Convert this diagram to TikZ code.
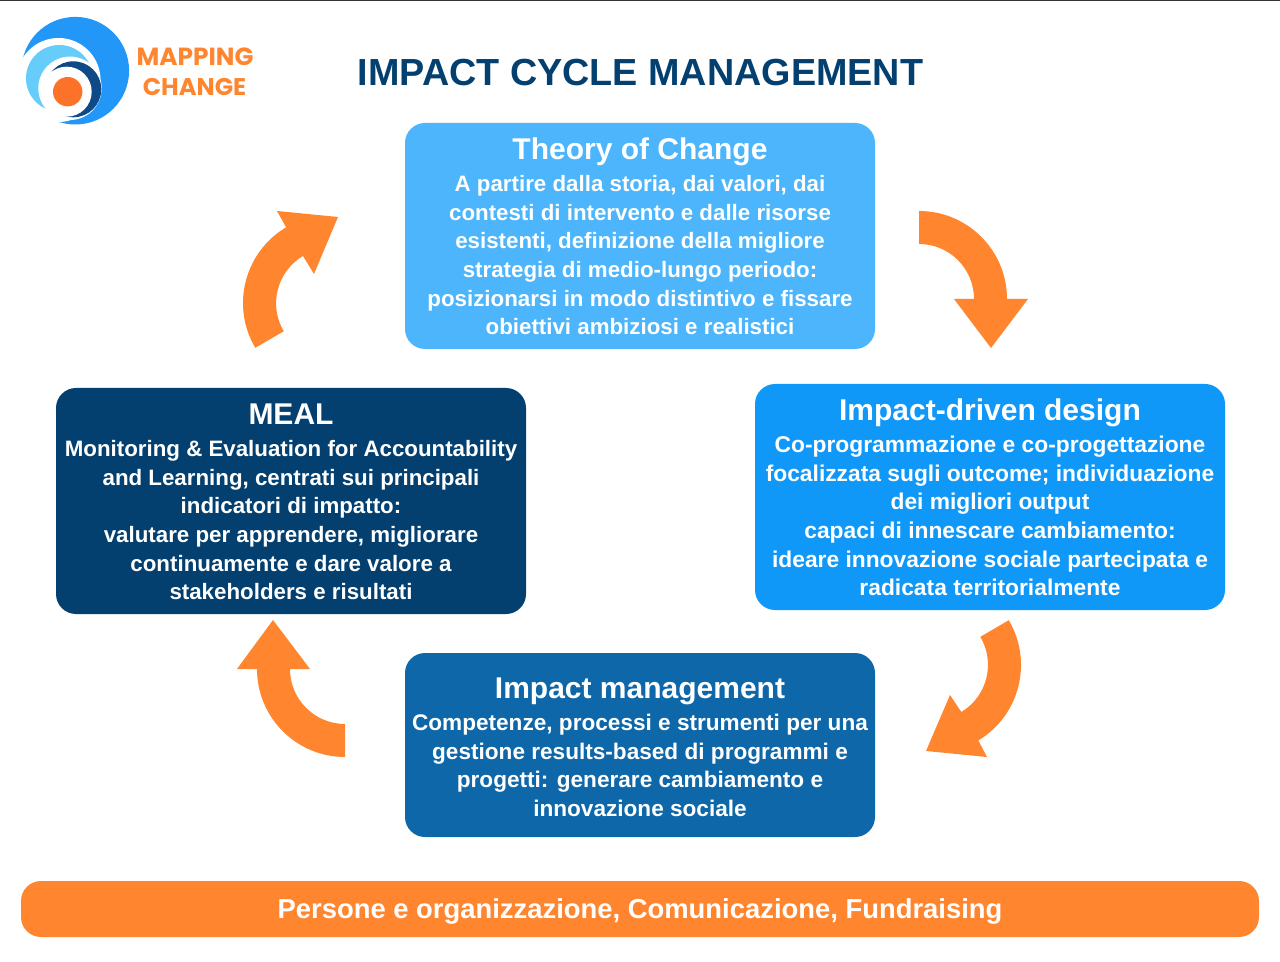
\documentclass[tikz,border=0pt]{standalone}
\usepackage{fontspec}
\setmainfont{Liberation Sans Bold}
\newfontfamily\logofont{Poppins Bold}
\definecolor{orangemc}{HTML}{FF862F}
\definecolor{navymc}{HTML}{03406F}
\definecolor{skymc}{HTML}{4DB5FB}
\definecolor{brightmc}{HTML}{1098F9}
\definecolor{deepmc}{HTML}{0D67A8}
\definecolor{logoblue}{HTML}{2397F7}
\definecolor{logosky}{HTML}{66CDFB}
\definecolor{logonavy}{HTML}{0F4A87}
\definecolor{logodot}{HTML}{FD7229}
\tikzset{
  stagebox/.style={rounded corners=15pt, minimum width=352.5pt, inner sep=0pt, outer sep=0pt,
    align=center, text=white, font=\fontsize{16.73}{21.45}\selectfont},
  curvedarrow/.style={fill=orangemc},
  logotext/.style={text=orangemc, font=\logofont\fontsize{18.6}{22}\selectfont}
}
\newcommand{\stagetitle}[2][16.9pt]{{\fontsize{22.5}{26}\selectfont\rule{0pt}{#1}#2}\\[2.6pt]}
\begin{document}
\begin{tikzpicture}[x=0.75pt,y=0.75pt]
  \useasboundingbox (0,0) rectangle (1280,961);
  \fill[white] (0,0) rectangle (1280,961);
  \fill[black!80] (0,959.5) rectangle (1280,961);
  \fill[logoblue] (75.3,890.3) circle[radius=53.8];
  \fill[white] (58.5,881) circle[radius=42];
  \fill[logosky] (59.3,882.7) circle[radius=33.3];
  \fill[white] (70,872.7) circle[radius=31.7];
  \fill[logonavy] (73.3,871.7) circle[radius=28];
  \fill[white] (66.7,869.3) circle[radius=25];
  \fill[logodot] (67.7,869.3) circle[radius=14.7];
  \node[logotext] (mapping) at (195,904) {MAPPING};
  \node[logotext, font=\logofont\fontsize{18.1}{22}\selectfont] (change) at (194.5,874) {CHANGE};
  \node[text=navymc, font=\fontsize{28.3}{34}\selectfont] (title) at (640.5,888) {IMPACT CYCLE MANAGEMENT};
  \node[stagebox, fill=skymc, minimum height=169.5pt] (theory) at (640,725) {\stagetitle{Theory of Change}
    A partire dalla storia, dai valori, dai\\contesti di intervento e dalle risorse\\esistenti, definizione della migliore\\strategia di medio-lungo periodo:\\posizionarsi in modo distintivo e fissare\\obiettivi ambiziosi e realistici};
  \node[stagebox, fill=brightmc, minimum height=169.5pt, font=\fontsize{17.1}{21.45}\selectfont] (design) at (990,464) {\stagetitle{Impact-driven design}
    Co-programmazione e co-progettazione\\focalizzata sugli outcome; individuazione\\dei migliori output\\capaci di innescare cambiamento:\\ideare innovazione sociale partecipata e\\radicata territorialmente};
  \node[stagebox, fill=deepmc, minimum height=138pt, font=\fontsize{16.95}{21.45}\selectfont] (management) at (640,216) {\stagetitle[19.1pt]{Impact management}
    Competenze, processi e strumenti per una\\gestione results-based di programmi e\\progetti: generare cambiamento e\\innovazione sociale};
  \node[stagebox, fill=navymc, minimum height=169.5pt] (meal) at (291,460) {\stagetitle{MEAL}
    Monitoring \& Evaluation for Accountability\\and Learning, centrati sui principali\\indicatori di impatto:\\valutare per apprendere, migliorare\\continuamente e dare valore a\\stakeholders e risultati};
  \node[stagebox, fill=orangemc, minimum width=928.5pt, minimum height=42pt, text height=18.4pt, font=\fontsize{20.55}{24}\selectfont] (support) at (640,52) {Persone e organizzazione, Comunicazione, Fundraising};
  \fill[curvedarrow] (919,750) arc[start angle=90,end angle=0,radius=88] -- (1028,662) -- (991,613) -- (954,662) -- (974,662) arc[start angle=0,end angle=90,radius=55] -- cycle;
  \fill[curvedarrow] (933,296) ++(30.6:88) arc[start angle=30.6,end angle=-59,radius=88] -- (987,204) -- (926,210) -- (950,266) -- (961.3,249) arc[start angle=-59,end angle=30.6,radius=55] -- cycle;
  \fill[curvedarrow] (345,204) arc[start angle=270,end angle=180,radius=88] -- (237,292) -- (273,341) -- (310,292) -- (290,292) arc[start angle=180,end angle=270,radius=55] -- cycle;
  \fill[curvedarrow] (331,658) ++(210.6:88) arc[start angle=210.6,end angle=120.7,radius=88] -- (277,750) -- (338,744) -- (314,687) -- (303,705) arc[start angle=120.7,end angle=210.6,radius=55] -- cycle;
\end{tikzpicture}
\end{document}
